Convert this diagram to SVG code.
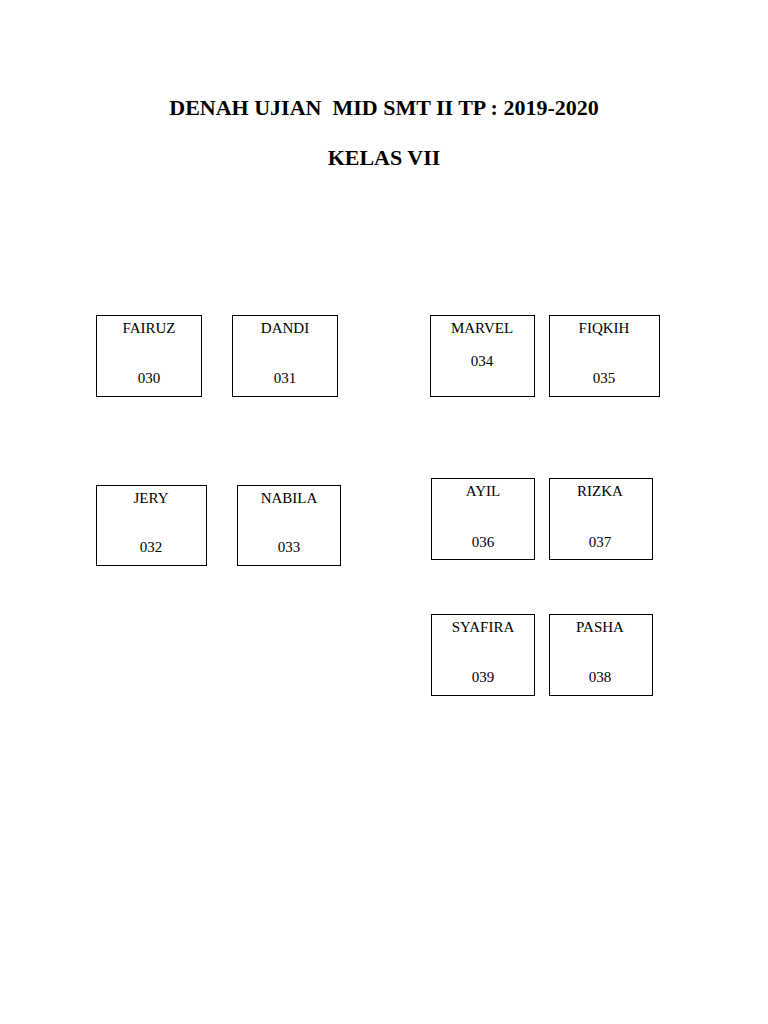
<svg xmlns="http://www.w3.org/2000/svg" width="768" height="1024" viewBox="0 0 768 1024">
<style>
.t{font-family:"Liberation Serif",serif;font-weight:bold;font-size:22px;text-anchor:middle;white-space:pre}
.b{fill:#fff;stroke:#000;stroke-width:1}
.l{font-family:"Liberation Serif",serif;font-size:15px;text-anchor:middle}
</style>
<rect width="768" height="1024" fill="#fff"/>
<text class="t" x="384" y="115" xml:space="preserve">DENAH UJIAN  MID SMT II TP : 2019-2020</text>
<text class="t" x="384" y="165">KELAS VII</text>
<g id="fairuz"><rect class="b" x="96.5" y="315.5" width="105" height="81"/><text class="l" x="149" y="333">FAIRUZ</text><text class="l" x="149" y="383">030</text></g>
<g id="dandi"><rect class="b" x="232.5" y="315.5" width="105" height="81"/><text class="l" x="285" y="333">DANDI</text><text class="l" x="285" y="383">031</text></g>
<g id="marvel"><rect class="b" x="430.5" y="315.5" width="104" height="81"/><text class="l" x="482" y="333">MARVEL</text><text class="l" x="482" y="366">034</text></g>
<g id="fiqkih"><rect class="b" x="549.5" y="315.5" width="110" height="81"/><text class="l" x="604" y="333">FIQKIH</text><text class="l" x="604" y="383">035</text></g>
<g id="jery"><rect class="b" x="96.5" y="485.5" width="110" height="80"/><text class="l" x="151" y="503">JERY</text><text class="l" x="151" y="552">032</text></g>
<g id="nabila"><rect class="b" x="237.5" y="485.5" width="103" height="80"/><text class="l" x="289" y="503">NABILA</text><text class="l" x="289" y="552">033</text></g>
<g id="ayil"><rect class="b" x="431.5" y="478.5" width="103" height="81"/><text class="l" x="483" y="496">AYIL</text><text class="l" x="483" y="547">036</text></g>
<g id="rizka"><rect class="b" x="549.5" y="478.5" width="103" height="81"/><text class="l" x="600" y="496">RIZKA</text><text class="l" x="600" y="547">037</text></g>
<g id="syafira"><rect class="b" x="431.5" y="614.5" width="103" height="81"/><text class="l" x="483" y="632">SYAFIRA</text><text class="l" x="483" y="682">039</text></g>
<g id="pasha"><rect class="b" x="549.5" y="614.5" width="103" height="81"/><text class="l" x="600" y="632">PASHA</text><text class="l" x="600" y="682">038</text></g>
<g id="connectors"/>
</svg>
